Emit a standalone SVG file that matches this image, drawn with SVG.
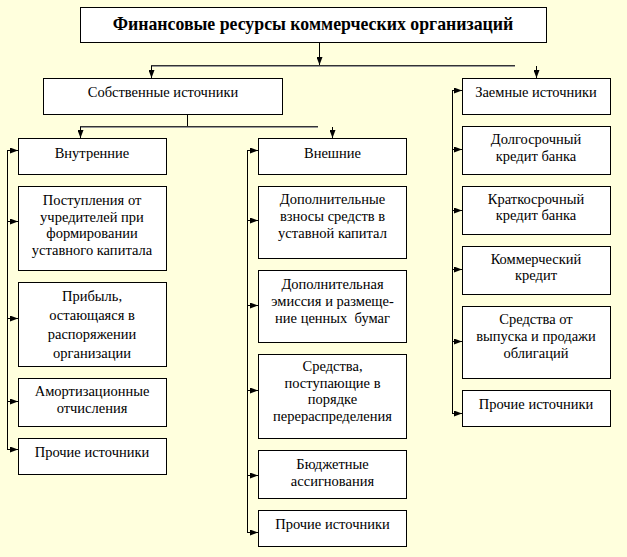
<svg xmlns="http://www.w3.org/2000/svg" width="627" height="557" viewBox="0 0 627 557" font-family="Liberation Serif, Times New Roman, serif">
<defs>
<style>
.bg{fill:#FFFFDD}
.box{fill:#FFFFFF;stroke:#000;stroke-width:1}
.t{font-size:14.5px;fill:#000;text-anchor:middle}
.title{font-size:17.8px;font-weight:bold;fill:#000;text-anchor:middle}
.ln{fill:none;stroke:#000;stroke-width:1}
.bus1{fill:none;stroke:#333;stroke-width:1}
.bus2{fill:none;stroke:#999;stroke-width:1}
.ar{fill:none;stroke:#000;stroke-width:1;marker-end:url(#ah)}
</style>
<marker id="ah" viewBox="0 0 8 6" refX="8" refY="3" markerWidth="8" markerHeight="6" orient="auto" markerUnits="userSpaceOnUse">
<path d="M0,0 L8,3 L0,6 z" fill="#000"/>
</marker>
</defs>
<rect class="bg" x="0" y="0" width="627" height="557"/>

<g id="connectors">
<path class="ar" d="M319.5,42 V65"/>
<path class="bus1" d="M151,65.5 H515"/>
<path class="bus2" d="M151,66.5 H515"/>
<path class="ar" d="M151.5,66 V78"/>
<path class="ar" d="M536.5,66 V78"/>
<path class="ln" d="M187.5,114 V126"/>
<path class="bus1" d="M80,126.5 H318"/>
<path class="bus2" d="M80,127.5 H318"/>
<path class="ar" d="M80.5,127 V138"/>
<path class="ar" d="M332.5,127 V138"/>
<path class="ln" d="M7.5,150 V449.5"/>
<path class="ar" d="M7,150.5 H18"/>
<path class="ar" d="M7,221.5 H18"/>
<path class="ar" d="M7,318.5 H18"/>
<path class="ar" d="M7,401.5 H18"/>
<path class="ar" d="M7,449.5 H18"/>
<path class="ln" d="M247.5,150 V532.5"/>
<path class="ar" d="M247,150.5 H258"/>
<path class="ar" d="M247,220.5 H258"/>
<path class="ar" d="M247,305.5 H258"/>
<path class="ar" d="M247,390.5 H258"/>
<path class="ar" d="M247,475.5 H258"/>
<path class="ar" d="M247,532.5 H258"/>
<path class="ln" d="M452.5,90 V413.5"/>
<path class="ar" d="M452,90.5 H462"/>
<path class="ar" d="M452,149.5 H462"/>
<path class="ar" d="M452,210.5 H462"/>
<path class="ar" d="M452,269.5 H462"/>
<path class="ar" d="M452,341.5 H462"/>
<path class="ar" d="M452,413.5 H462"/>
</g>

<g id="n-root">
<rect class="box" x="80.5" y="7.5" width="466" height="35"/>
<text class="title" x="313" y="30">Финансовые ресурсы коммерческих организаций</text>
</g>

<g id="n-own">
<rect class="box" x="43.5" y="78.5" width="239" height="36"/>
<text class="t" x="163" y="97">Собственные источники</text>
</g>

<g id="n-borrowed">
<rect class="box" x="462.5" y="78.5" width="148" height="36"/>
<text class="t" x="536" y="97">Заемные источники</text>
</g>

<g id="n-internal">
<rect class="box" x="18.5" y="138.5" width="148" height="36"/>
<text class="t" x="92" y="158">Внутренние</text>
</g>
<g id="n-founders">
<rect class="box" x="18.5" y="186.5" width="148" height="84"/>
<text class="t" x="92" y="205">Поступления от</text>
<text class="t" x="92" y="221.5">учредителей при</text>
<text class="t" x="92" y="238">формировании</text>
<text class="t" x="92" y="255">уставного капитала</text>
</g>
<g id="n-profit">
<rect class="box" x="18.5" y="282.5" width="148" height="84"/>
<text class="t" x="92" y="301">Прибыль,</text>
<text class="t" x="92" y="320">остающаяся в</text>
<text class="t" x="92" y="339">распоряжении</text>
<text class="t" x="92" y="358">организации</text>
</g>
<g id="n-amort">
<rect class="box" x="18.5" y="378.5" width="148" height="48"/>
<text class="t" x="92" y="396">Амортизационные</text>
<text class="t" x="92" y="413">отчисления</text>
</g>
<g id="n-int-other">
<rect class="box" x="18.5" y="438.5" width="148" height="36"/>
<text class="t" x="92" y="457">Прочие источники</text>
</g>

<g id="n-external">
<rect class="box" x="258.5" y="138.5" width="148" height="36"/>
<text class="t" x="332.5" y="158">Внешние</text>
</g>
<g id="n-contrib">
<rect class="box" x="258.5" y="186.5" width="148" height="72"/>
<text class="t" x="332.5" y="204">Дополнительные</text>
<text class="t" x="332.5" y="221">взносы средств в</text>
<text class="t" x="332.5" y="238">уставной капитал</text>
</g>
<g id="n-emission">
<rect class="box" x="258.5" y="270.5" width="148" height="72"/>
<text class="t" x="332.5" y="289">Дополнительная</text>
<text class="t" x="332.5" y="306">эмиссия и размеще-</text>
<text class="t" x="332.5" y="323" xml:space="preserve">ние ценных  бумаг</text>
</g>
<g id="n-redistrib">
<rect class="box" x="258.5" y="354.5" width="148" height="84"/>
<text class="t" x="332.5" y="371">Средства,</text>
<text class="t" x="332.5" y="387.5">поступающие в</text>
<text class="t" x="332.5" y="404">порядке</text>
<text class="t" x="332.5" y="421">перераспределения</text>
</g>
<g id="n-budget">
<rect class="box" x="258.5" y="450.5" width="148" height="48"/>
<text class="t" x="332.5" y="469">Бюджетные</text>
<text class="t" x="332.5" y="485.5">ассигнования</text>
</g>
<g id="n-ext-other">
<rect class="box" x="258.5" y="510.5" width="148" height="36"/>
<text class="t" x="332.5" y="528.5">Прочие источники</text>
</g>

<g id="n-longterm">
<rect class="box" x="462.5" y="126.5" width="148" height="48"/>
<text class="t" x="536" y="144">Долгосрочный</text>
<text class="t" x="536" y="161">кредит банка</text>
</g>
<g id="n-shortterm">
<rect class="box" x="462.5" y="186.5" width="148" height="48"/>
<text class="t" x="536" y="203.5">Краткосрочный</text>
<text class="t" x="536" y="220">кредит банка</text>
</g>
<g id="n-commercial">
<rect class="box" x="462.5" y="246.5" width="148" height="48"/>
<text class="t" x="536" y="263.5">Коммерческий</text>
<text class="t" x="536" y="280">кредит</text>
</g>
<g id="n-bonds">
<rect class="box" x="462.5" y="306.5" width="148" height="72"/>
<text class="t" x="536" y="324">Средства от</text>
<text class="t" x="536" y="340.5">выпуска и продажи</text>
<text class="t" x="536" y="357.5">облигаций</text>
</g>
<g id="n-brw-other">
<rect class="box" x="462.5" y="390.5" width="148" height="36"/>
<text class="t" x="536" y="408.5">Прочие источники</text>
</g>
</svg>
